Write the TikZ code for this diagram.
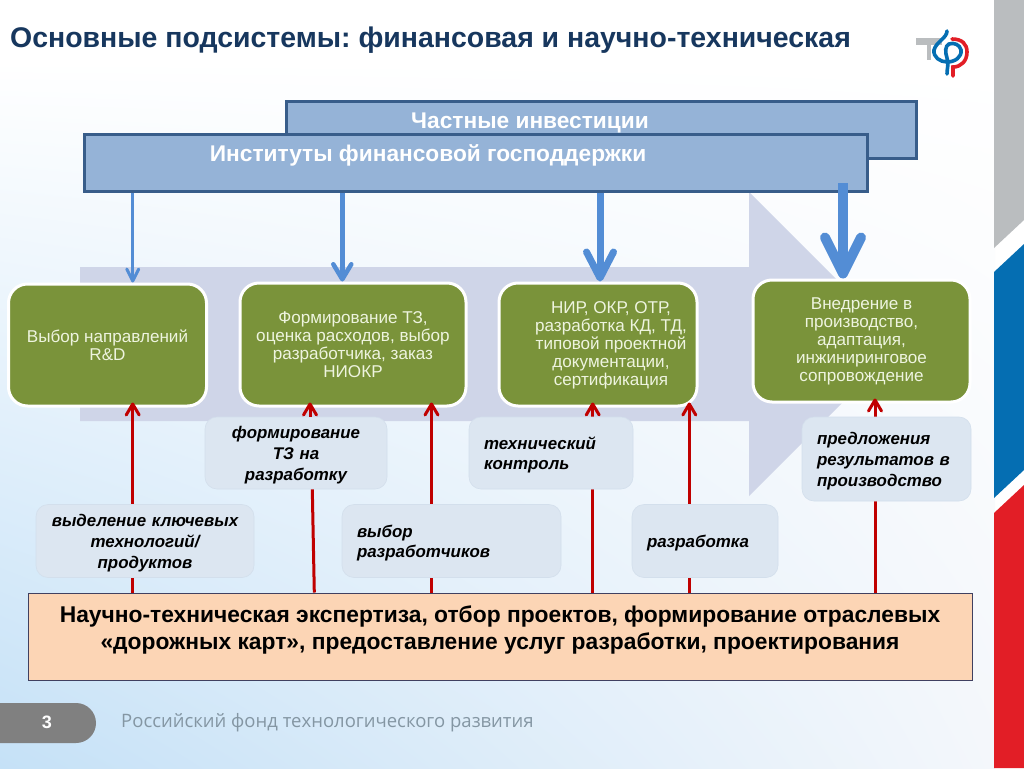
\documentclass[tikz,border=0pt]{standalone}
\usepackage{fontspec}
\setmainfont{Liberation Sans}
\newfontfamily\footfont{Open Sans}
\usetikzlibrary{arrows.meta,shadings}
\frenchspacing
\definecolor{titleblue}{HTML}{17375E}
\definecolor{flowgrey}{HTML}{CFD5E8}
\definecolor{greenbox}{HTML}{7A933A}
\definecolor{bluebox}{HTML}{95B3D7}
\definecolor{blueedge}{HTML}{385D8A}
\definecolor{arrowblue}{HTML}{538DD5}
\definecolor{arrowred}{HTML}{C00000}
\definecolor{lightbox}{HTML}{DCE6F1}
\definecolor{lightedge}{HTML}{D3DFEC}
\definecolor{peach}{HTML}{FCD5B5}
\definecolor{footgrey}{HTML}{8496A3}
\definecolor{peachedge}{HTML}{404060}
\definecolor{stripgrey}{HTML}{BABDBF}
\definecolor{stripblue}{HTML}{056EB2}
\definecolor{stripred}{HTML}{E21E26}
\definecolor{bgll}{HTML}{C5E1F7}
\definecolor{bglr}{HTML}{F4F7FB}
\definecolor{greentext}{HTML}{EEF4DF}
\newcommand{\lowr}{\rule{0pt}{16.5pt}}
\tikzset{
 x=1pt,y=-1pt,
 gbox/.style={draw=white,line width=3pt,fill=greenbox,rounded corners=19pt,text=greentext,align=center,font=\fontsize{17.1}{18}\selectfont,inner sep=0pt},
 gtext/.style={text=greentext,align=center,font=\fontsize{17.1}{18}\selectfont,inner sep=0pt},
 tbox/.style={draw=blueedge,line width=3pt,fill=bluebox,inner sep=0pt},
 ttext/.style={text=white,font=\fontsize{22.7}{26}\selectfont\bfseries,inner sep=0pt},
 lbox/.style={draw=lightedge,line width=.6pt,fill=lightbox,rounded corners=12pt,inner ysep=0pt,inner xsep=15pt,font=\fontsize{16.9}{20.6}\selectfont\bfseries\itshape,text=black},
 upred/.style={draw=arrowred,line width=3pt,shorten >=-5pt,-{Straight Barb[length=11pt,width=13pt,round]}},
 plainred/.style={draw=arrowred,line width=3pt},
 dnblue/.style={draw=arrowblue},
}
\begin{document}
\begin{tikzpicture}
\useasboundingbox (0,0) rectangle (1024,768);
\fill[white] (0,0) rectangle (1024,768);
\shade[shading=bilinear interpolation,lower left=bgll,upper left=white,upper right=white,lower right=bglr] (0,60) rectangle (995,768);
% right strip
\fill[stripgrey] (994,0) -- (1024,0) -- (1024,220) -- (994,248) -- cycle;
\fill[stripblue] (994,272) -- (1024,244) -- (1024,470) -- (994,498) -- cycle;
\fill[stripred] (994,513) -- (1024,485) -- (1024,768) -- (994,768) -- cycle;
% flow arrow
\fill[flowgrey] (80,267) -- (749,267) -- (749,192) -- (901,344) -- (749,496) -- (749,421) -- (80,421) -- cycle;
% title
\node[anchor=west,inner sep=0pt,text=titleblue,font=\fontsize{28.45}{32}\selectfont\bfseries] (title) at (10,40) {Основные подсистемы: финансовая и научно-техническая};
% logo
\draw[stripgrey,line width=7pt] (916,42) -- (942,42);
\draw[stripgrey,line width=4pt] (929,42) -- (929,60);
\draw[stripred,line width=3.6pt,line cap=round] (952,39) .. controls (962,39) and (967,44) .. (967,52) .. controls (967,61) and (961,67) .. (953,67) -- (953,76);
\draw[stripblue,line width=3.6pt,line cap=round] (947,31) .. controls (947,38) and (936,42) .. (934,50) .. controls (933,57) and (940,62) .. (947,62) .. controls (955,62) and (962,57) .. (961,50) .. controls (960,45) and (954,42) .. (949,44) .. controls (945,46) and (945,52) .. (947,58) .. controls (949,64) and (947,68) .. (947,74);
% blue boxes
\node[tbox,minimum width=630pt,minimum height=57pt] (priv) at (601,129.5) {};
\node[ttext] (privt) at (530,123) {Частные инвестиции};
\node[tbox,minimum width=783pt,minimum height=57pt] (inst) at (475.5,162.5) {};
\node[ttext] (instt) at (428,155) {Институты финансовой господдержки};
% stage boxes
\node[gbox,minimum width=198pt,minimum height=122pt] (g1) at (107.5,345) {Выбор направлений\\R\&D};
\node[gbox,minimum width=226pt,minimum height=123pt] (g2) at (353,344.5) {Формирование ТЗ,\\оценка расходов, выбор\\разработчика, заказ\\НИОКР};
\node[gbox,minimum width=198pt,minimum height=123pt] (g3) at (598,344.5) {};
\node[gtext] (g3t) at (611,345.5) {НИР, ОКР, ОТР,\\разработка КД, ТД,\\типовой проектной\\документации,\\сертификация};
\node[gbox,minimum width=217pt,minimum height=122pt] (g4) at (861.5,341) {Внедрение в\\производство,\\адаптация,\\инжиниринговое\\сопровождение};
% bottom box
\node[draw=peachedge,line width=1pt,fill=peach,minimum width=944pt,minimum height=87pt,inner sep=0pt] (exp) at (500,636.5) {};
\node[align=center,inner sep=0pt,text=black,font=\fontsize{22.8}{27}\selectfont\bfseries] (expt) at (500,629.5) {Научно-техническая экспертиза, отбор проектов, формирование отраслевых\\«дорожных карт», предоставление услуг разработки, проектирования};
% helpers for connector columns
\coordinate (c1) at (132.7,0);
\coordinate (c2) at (342.3,0);
\coordinate (c3) at (600,0);
\coordinate (c4) at (843,183);
\coordinate (r1) at (132.7,0);
\coordinate (r2) at (310,0);
\coordinate (r2a) at (312.3,0);
\coordinate (r2b) at (314.3,0);
\coordinate (r3) at (431.5,0);
\coordinate (r4) at (592.7,0);
\coordinate (r5) at (689.3,0);
\coordinate (r6) at (875,0);
% blue connectors
\draw[dnblue,line width=3pt,-{Straight Barb[length=12pt,width=12pt,round]}] (c1 |- inst.south) -- (c1 |- g1.north);
\draw[dnblue,line width=4.5pt,-{Straight Barb[length=15pt,width=18pt,round]}] (c2 |- inst.south) -- (c2 |- g2.north);
\draw[dnblue,line width=7pt,-{Straight Barb[length=26pt,width=27pt,round]}] (c3 |- inst.south) -- (c3 |- g3.north);
\draw[dnblue,line width=10pt,-{Straight Barb[length=36pt,width=36pt,round]}] (c4) -- (c4 |- g4.north);
% red connectors
\draw[upred] (r1 |- exp.north) -- (r1 |- g1.south);
\draw[upred] (r3 |- exp.north) -- (r3 |- g2.south);
\draw[upred] (r4 |- exp.north) -- (r4 |- g3.south);
\draw[upred] (r5 |- exp.north) -- (r5 |- g3.south);
\draw[upred] (r6 |- exp.north) -- (r6 |- g4.south);
% labelled boxes
\node[lbox,text width=188pt,align=center,minimum height=73pt,inner xsep=15pt] (b1) at (145,541) {\lowr выделение ключевых\\технологий/\\продуктов};
\node[lbox,text width=152pt,align=center,minimum height=72pt] (b2) at (296,453) {\lowr формирование\\ТЗ на\\разработку};
\node[lbox,text width=189pt,align=left,minimum height=73pt] (b3) at (451.5,541) {\lowr выбор\\разработчиков};
\node[lbox,text width=134pt,align=left,minimum height=72pt] (b4) at (551,453) {\lowr технический\\контроль};
\node[lbox,text width=116pt,align=left,minimum height=73pt] (b5) at (705,541) {\lowr разработка};
\node[lbox,text width=139pt,align=left,minimum height=84pt] (b6) at (886.5,459) {\lowr предложения\\результатов в\\производство};
% the piece of the second column
\draw[upred] (r2 |- b2.north) -- (r2 |- g2.south);
\draw[plainred] (r2a |- b2.south) -- (r2b |- exp.north);
% footer
\fill[black!50!white,rounded corners=20pt] (-30,703) rectangle (96,743);
\node[text=white,font=\fontsize{18}{20}\selectfont\bfseries,inner sep=0pt] (pg) at (47,722) {3};
\node[anchor=west,inner sep=0pt,text=footgrey,font=\footfont\fontsize{18.5}{22}\selectfont] (foot) at (121,723) {Российский фонд технологического развития};
\end{tikzpicture}
\end{document}
